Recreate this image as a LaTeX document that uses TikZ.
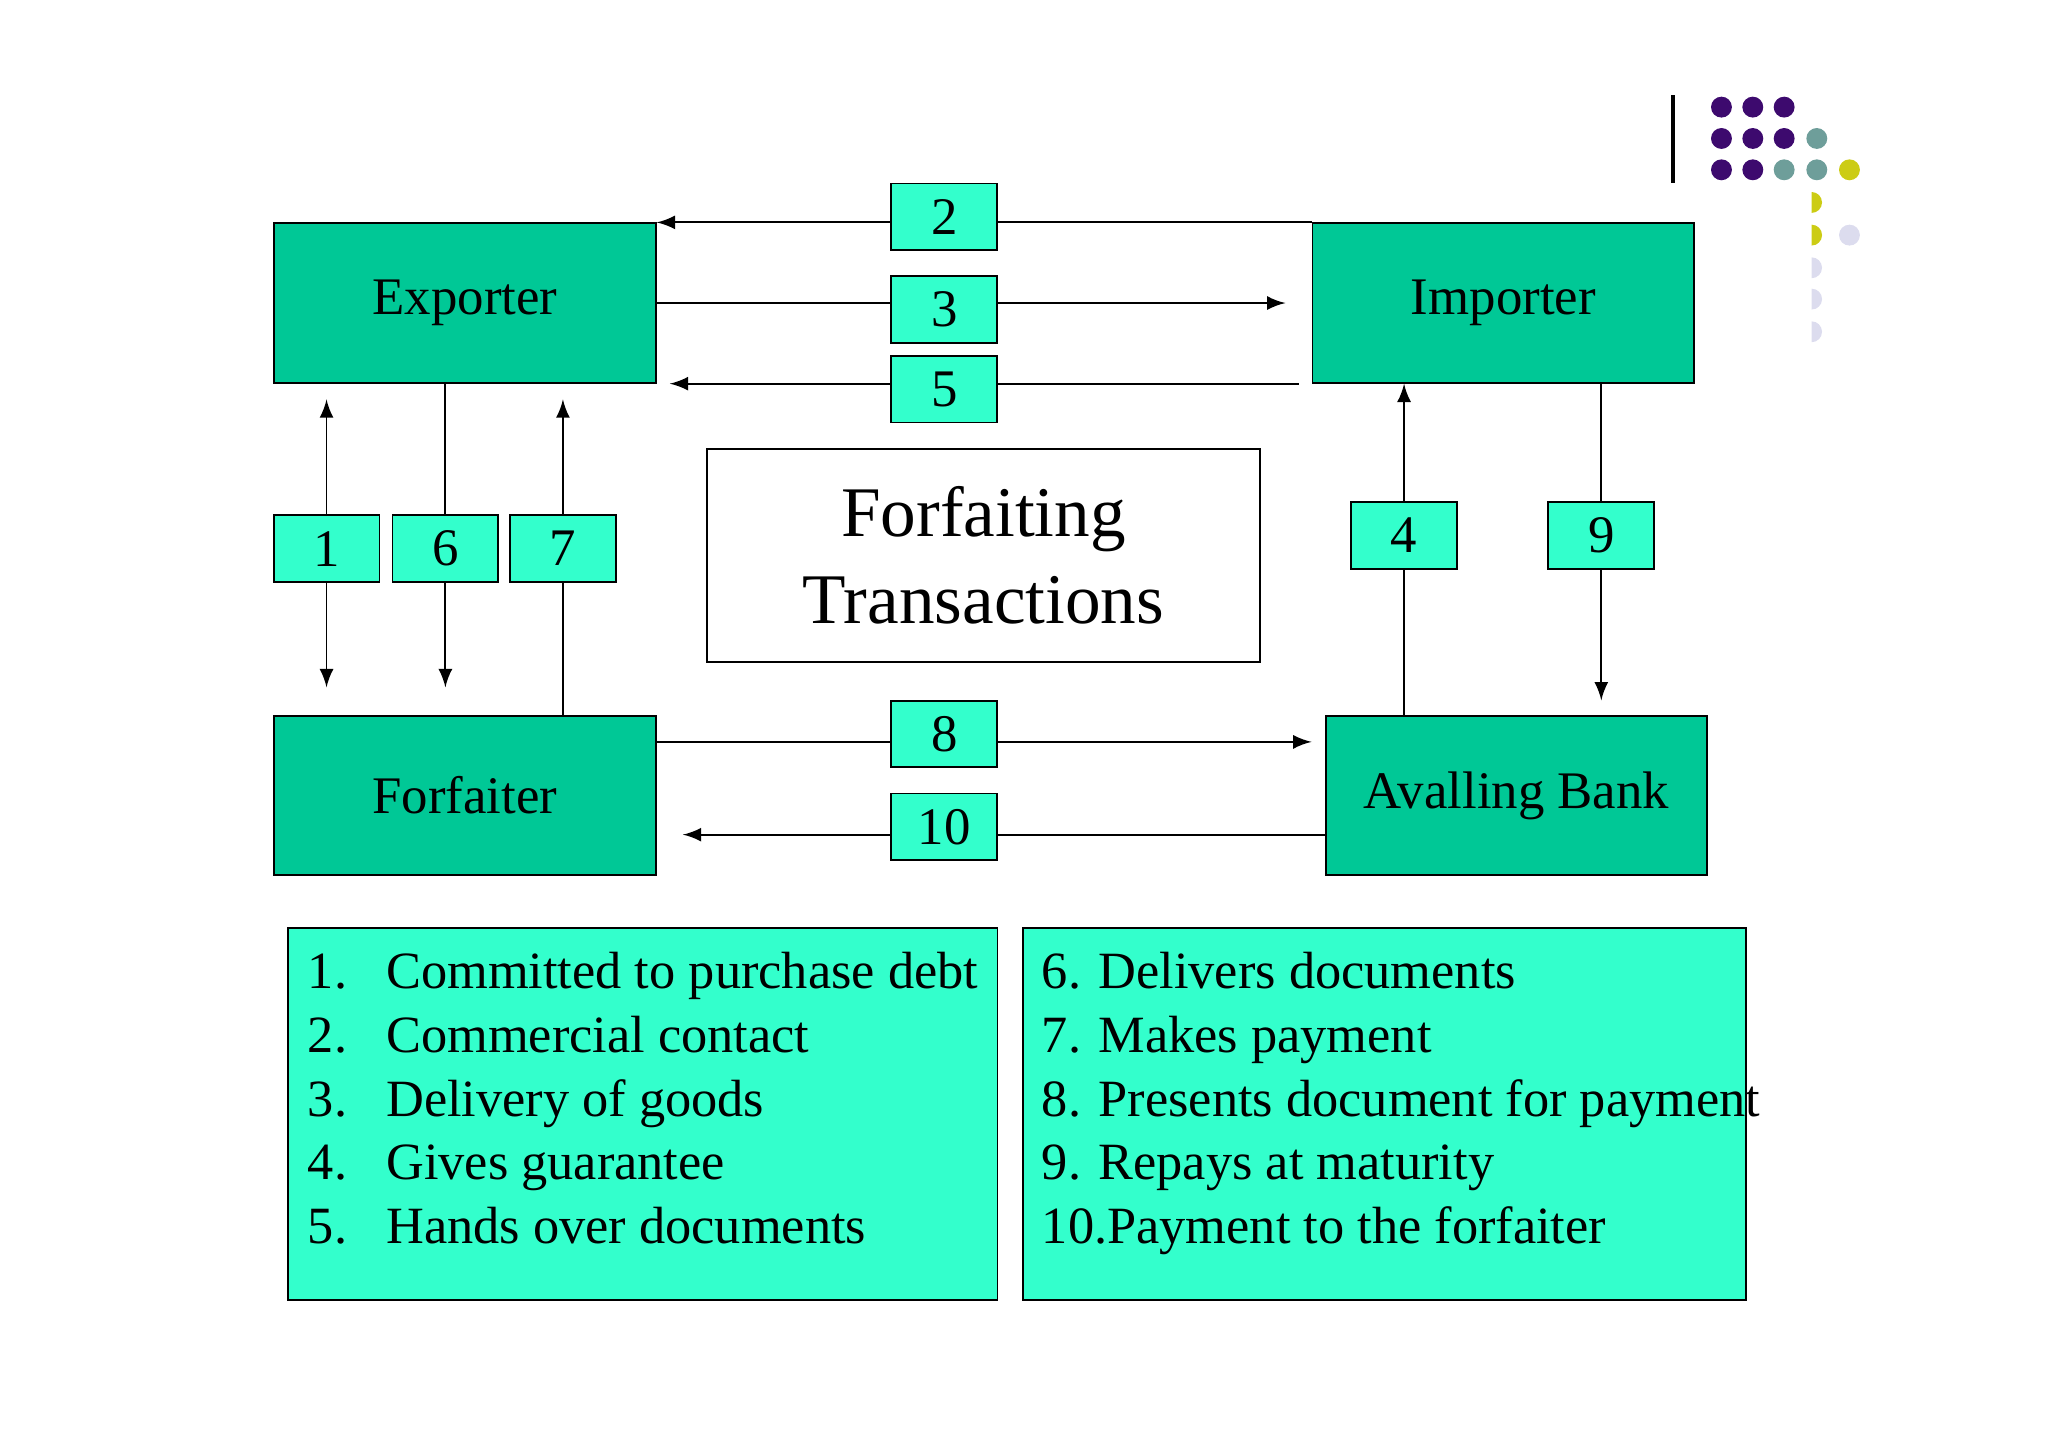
\documentclass[tikz,border=0pt]{standalone}
\usepackage{fontspec}
\setmainfont{Liberation Serif}
\usetikzlibrary{arrows,backgrounds}
\definecolor{partyteal}{HTML}{00C896}
\definecolor{numaqua}{HTML}{33FFCC}
\definecolor{dotpurple}{HTML}{3D0A6E}
\definecolor{dotgray}{HTML}{6E9E9A}
\definecolor{dotyellow}{HTML}{CCCC14}
\definecolor{dotlav}{HTML}{DCDCEE}
\tikzstyle{line} = [draw, -latex]
\tikzstyle{party} = [draw, rectangle, fill=partyteal, text centered, minimum width=2.92cm, minimum height=1.22cm, inner sep=0pt, font=\fontsize{11.5}{13}\selectfont]
\tikzstyle{num} = [draw, rectangle, fill=numaqua, text centered, minimum width=0.81cm, minimum height=0.51cm, inner sep=0pt, font=\fontsize{11.5}{13}\selectfont]
\tikzstyle{legend} = [draw, rectangle, fill=numaqua, inner sep=0pt]
\tikzstyle{item} = [anchor=base west, inner sep=0pt, font=\fontsize{11.4}{13}\selectfont]
\begin{document}
\begin{tikzpicture}[x=0.01cm, y=-0.01cm]
        \useasboundingbox (0,0) rectangle (1568,1108);
        % parties
        \node[party] (exporter) at (356,232) {\raisebox{-4pt}{Exporter}};
        \node[party] (importer) at (1151,232) {\raisebox{-4pt}{Importer}};
        \node[party] (forfaiter) at (356,609) {\raisebox{-4pt}{Forfaiter}};
        \node[party] (bank) at (1161,609) {\raisebox{-4pt}{Avalling Bank}};
        \node[draw, minimum width=4.23cm, minimum height=1.63cm, align=center, font=\fontsize{15.5}{19}\selectfont] (title) at (753,425) {Forfaiting\\Transactions};
        % numbers
        \node[num] (n2) at (723,166) {2};
        \node[num] (n3) at (723,237) {3};
        \node[num] (n5) at (723,298) {5};
        \node[num] (n1) at (250,420) {1};
        \node[num] (n6) at (341,420) {6};
        \node[num] (n7) at (431,420) {7};
        \node[num] (n4) at (1075,410) {4};
        \node[num] (n9) at (1226,410) {9};
        \node[num] (n8) at (723,562) {8};
        \node[num] (n10) at (723,633) {10};
        \begin{pgfonlayer}{background}
        \path[line] (importer.north west) -- (exporter.north east);
        \path[line, shorten >=0.2cm] (exporter.east) -- (importer.west);
        \path[line, shorten <=0.1cm, shorten >=0.1cm] (importer.south west) -- (exporter.south east);
        \path[latex-latex, draw, shorten <=0.12cm, shorten >=0.21cm] (exporter.south -| n1) -- (forfaiter.north -| n1);
        \path[line, shorten >=0.21cm] (exporter.south -| n6) -- (forfaiter.north -| n6);
        \path[line, shorten >=0.12cm] (forfaiter.north -| n7) -- (exporter.south -| n7);
        \path[line] (bank.north -| n4) -- (importer.south -| n4);
        \path[line, shorten >=0.11cm] (importer.south -| n9) -- (bank.north -| n9);
        \path[line, shorten >=0.1cm] (forfaiter.east |- n8.center) ++(0,6) coordinate (a8) -- (bank.west |- a8);
        \path[line, shorten >=0.2cm] ([yshift=-0.3cm]bank.west) -- ([yshift=-0.3cm]forfaiter.east);
        \end{pgfonlayer}
        % legend
        \node[legend, minimum width=5.43cm, minimum height=2.85cm] (legA) at (492,853) {};
        \node[legend, minimum width=5.53cm, minimum height=2.85cm] (legB) at (1060,853) {};
        \foreach \y/\n/\t in {757/1./Committed to purchase debt, 806/2./Commercial contact, 855/3./Delivery of goods, 903/4./Gives guarantee, 952/5./Hands over documents} {
            \node[item] at (235,\y) {\n};
            \node[item] at (295,\y) {\t};
        }
        \foreach \y/\t in {757/6. Delivers documents, 806/7. Makes payment, 855/8. Presents document for payment, 903/9. Repays at maturity, 952/10.Payment to the forfaiter}
            \node[item] at (797,\y) {\t};
        % corner dots
        \draw[line width=1pt] (1281,73) -- (1281,140);
        \foreach \x/\y/\c in {1318/82/dotpurple, 1342/82/dotpurple, 1366/82/dotpurple, 1318/106/dotpurple, 1342/106/dotpurple, 1366/106/dotpurple, 1391/106/dotgray, 1318/130/dotpurple, 1342/130/dotpurple, 1366/130/dotgray, 1391/130/dotgray, 1416/130/dotyellow, 1416/180/dotlav}
            \fill[\c] (\x,\y) circle (8);
        \foreach \y/\c in {155/dotyellow, 180/dotyellow, 205/dotlav, 229/dotlav, 254/dotlav}
            \fill[\c] (1387,\y+8) arc (90:-90:8) -- cycle;
\end{tikzpicture}
\end{document}
